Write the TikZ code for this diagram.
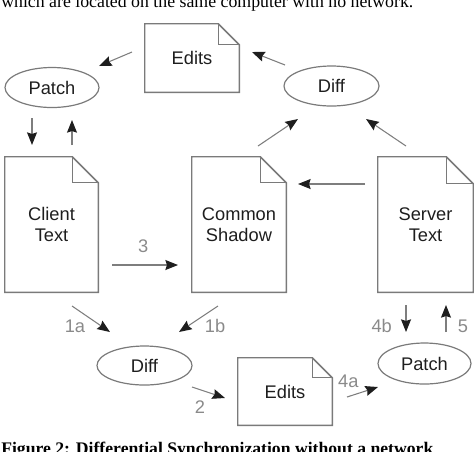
\documentclass[tikz,border=0pt]{standalone}
\usepackage{fontspec}
\setmainfont{Liberation Sans}
\newfontfamily\captionserif{Liberation Serif}
\usetikzlibrary{shapes.geometric,arrows.meta,calc}
\newlength\pxu
\setlength\pxu{0.75pt}
\definecolor{outline}{HTML}{7A7A7A}
\definecolor{arrline}{HTML}{7E7E7E}
\definecolor{arrhead}{HTML}{1E1E1E}
\definecolor{labelgray}{HTML}{8A8A8A}
\definecolor{txt}{HTML}{1E1E1E}
\tikzset{
  docbox/.style={draw=none, inner sep=0pt, align=center, text=txt,
    font=\fontsize{13.7}{15.8}\selectfont},
  docline/.style={draw=outline, line width=1.1pt, line join=miter},
  foldline/.style={draw=outline, line width=0.9pt},
  opnode/.style={ellipse, draw=outline, line width=0.9pt, inner sep=0pt,
    text=txt, font=\fontsize{13.7}{15.8}\selectfont},
  arr/.style={draw=arrline, line width=0.8pt,
    -{Stealth[length=9.5pt,width=7.5pt,inset=1.2pt,color=arrhead,fill=arrhead]}},
  steplabel/.style={text=labelgray, inner sep=0pt,
    font=\fontsize{13.7}{15.8}\selectfont}
}
% name, center, width px, height px, fold px, text
\newcommand\docnode[6]{%
  \node[docbox, minimum width=#3\pxu, minimum height=#4\pxu] (#1) at (#2) {#6};
  \draw[docline] (#1.north west) -- ([xshift=-#5\pxu]#1.north east)
    -- ([yshift=-#5\pxu]#1.north east) -- (#1.south east) -- (#1.south west) -- cycle;
  \draw[foldline] ([xshift=-#5\pxu]#1.north east) |- ([yshift=-#5\pxu]#1.north east);
}
\begin{document}
\begin{tikzpicture}[x=0.75pt,y=-0.75pt]
\useasboundingbox (0,0) rectangle (474,451);

% cut-off surrounding text
\node[anchor=base west, inner sep=0pt] (toptext) at (1,7.5)
  {\resizebox{412\pxu}{!}{\captionserif which are located on the same computer with no network.}};
\node[anchor=north west, inner sep=0pt] (caption) at (1,441.5)
  {\resizebox{432\pxu}{!}{\captionserif\bfseries Figure 2: Differential Synchronization without a network}};

% documents
\docnode{editsT}{192,58}{94}{68}{21}{Edits}
\docnode{client}{51.5,224.5}{93}{135}{26}{Client\\Text}
\docnode{shadow}{239,224.5}{94}{135}{26}{Common\\Shadow}
\docnode{server}{425.5,224.5}{95}{135}{27}{Server\\Text}
\docnode{editsB}{285,391.5}{94}{67}{20}{Edits}

% operations
\node[opnode, minimum width=94\pxu, minimum height=40\pxu] (patchT) at (52,87.5) {Patch};
\node[opnode, minimum width=95\pxu, minimum height=40\pxu] (diffT) at (331.5,86) {Diff};
\node[opnode, minimum width=95\pxu, minimum height=39\pxu] (diffB) at (144.5,365.5) {Diff};
\node[opnode, minimum width=93\pxu, minimum height=41\pxu] (patchB) at (424.5,363.5) {Patch};

% arrow end points
\coordinate (a1s) at (132,52);  \coordinate (a1e) at (99,66);
\coordinate (a2s) at (285,65);  \coordinate (a2e) at (252,52);
\coordinate (a3s) at (32,118);  \coordinate (a3e) at (32,145);
\coordinate (a4s) at (72,145);  \coordinate (a4e) at (72,120);
\coordinate (a5s) at (258,146); \coordinate (a5e) at (298,119);
\coordinate (a6s) at (406,146); \coordinate (a6e) at (366,119);
\coordinate (a7s) at (365,184); \coordinate (a7e) at (298,184);
\coordinate (a8s) at (112,265); \coordinate (a8e) at (178,265);
\coordinate (a9s) at (72,306);  \coordinate (a9e) at (110,332);
\coordinate (a10s) at (218,306); \coordinate (a10e) at (179,332);
\coordinate (a11s) at (192,387); \coordinate (a11e) at (225,398);
\coordinate (a12s) at (347,397); \coordinate (a12e) at (378,387);
\coordinate (a13s) at (406,305); \coordinate (a13e) at (406,332);
\coordinate (a14s) at (446,332); \coordinate (a14e) at (446,305);

\draw[arr] (a1s) -- (a1e);
\draw[arr] (a2s) -- (a2e);
\draw[arr] (a3s) -- (a3e);
\draw[arr] (a4s) -- (a4e);
\draw[arr] (a5s) -- (a5e);
\draw[arr] (a6s) -- (a6e);
\draw[arr] (a7s) -- (a7e);
\draw[arr] (a8s) -- (a8e);
\draw[arr] (a9s) -- (a9e);
\draw[arr] (a10s) -- (a10e);
\draw[arr] (a11s) -- (a11e);
\draw[arr] (a12s) -- (a12e);
\draw[arr] (a13s) -- (a13e);
\draw[arr] (a14s) -- (a14e);

% step labels
\node[steplabel] (l3) at (143.3,246) {3};
\node[steplabel] (l1a) at (75,326) {1a};
\node[steplabel] (l1b) at (215,326) {1b};
\node[steplabel] (l2) at (200,407) {2};
\node[steplabel] (l4a) at (348.3,381) {4a};
\node[steplabel] (l4b) at (381.7,326) {4b};
\node[steplabel] (l5) at (463,326) {5};
\end{tikzpicture}
\end{document}
